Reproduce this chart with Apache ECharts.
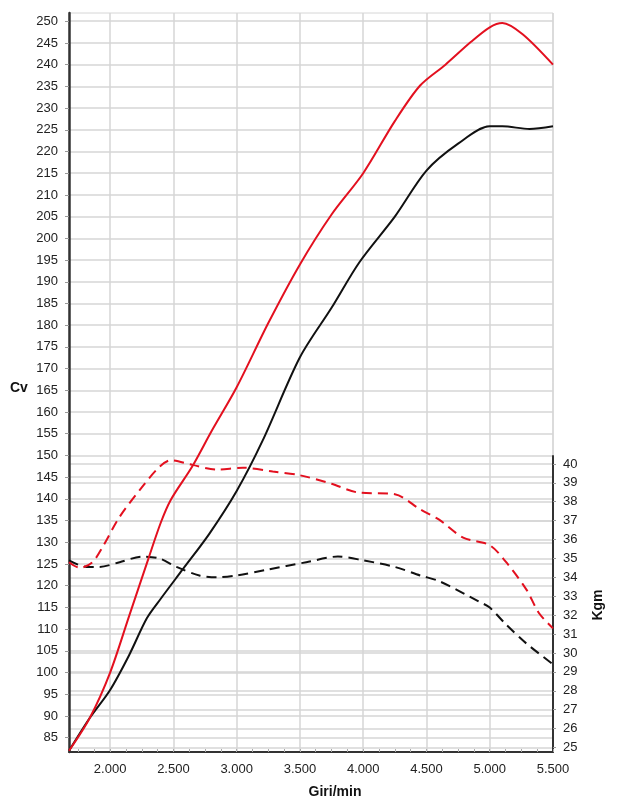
<!DOCTYPE html>
<html>
<head>
<meta charset="utf-8">
<script src="https://cdn.jsdelivr.net/npm/echarts@6/dist/echarts.min.js"></script>
<style>html,body{margin:0;padding:0;background:#fff}#c{width:619px;height:800px}</style>
</head>
<body>
<div id="c"></div>
<script>
// ---- data ----
const xLabels = [2000, 2500, 3000, 3500, 4000, 4500, 5000, 5500];
const xMinorTicks = [1750,1875,2000,2125,2250,2375,2500,2625,2750,2875,3000,3125,3250,3375,3500,3625,3750,3875,4000,4125,4250,4375,4500,4625,4750,4875,5000,5125,5250,5375,5500];
const cvLabels = [85,90,95,100,105,110,115,120,125,130,135,140,145,150,155,160,165,170,175,180,185,190,195,200,205,210,215,220,225,230,235,240,245,250];
const kgmLabels = [25,26,27,28,29,30,31,32,33,34,35,36,37,38,39,40];

const powerRedRpm = [1675,1840,2000,2150,2300,2400,2480,2650,2800,3000,3250,3500,3750,4000,4250,4450,4650,4850,5000,5100,5260,5500];
const powerRedCv  = [82,89.6,100,113,126,134.5,139.8,147.5,155.5,165.7,180.5,194,205.5,215,227,235.2,240,245.2,248.6,249.6,247,240];

const powerBlackRpm = [1675,1840,2000,2150,2290,2400,2575,2785,3000,3205,3500,3750,3970,4250,4500,4750,5000,5100,5315,5500];
const powerBlackCv  = [82,89.6,96,104,112.5,117,123.8,132,141.8,153.4,172.6,184,194.5,205,215.6,221.8,225.8,225.8,225.2,225.8];

const torqueRedRpm = [1675,1760,1860,1940,2075,2255,2390,2480,2650,2840,3050,3285,3500,3750,3950,4250,4450,4600,4790,5000,5130,5290,5390,5500];
const torqueRedKgm = [34.8,34.5,34.8,35.6,37.2,38.8,39.85,40.2,39.95,39.7,39.8,39.6,39.4,38.95,38.5,38.4,37.6,37.05,36.1,35.7,34.8,33.35,32.1,31.3];

const torqueBlackRpm = [1675,1815,1915,2075,2255,2390,2525,2705,2840,3000,3235,3550,3800,4000,4250,4450,4600,4920,5000,5130,5290,5500];
const torqueBlackKgm = [34.9,34.55,34.55,34.8,35.1,35.0,34.55,34.1,34.0,34.1,34.4,34.8,35.1,34.9,34.55,34.1,33.8,32.7,32.4,31.5,30.5,29.4];

// ---- chart ----
const pair = (xs, ys) => xs.map((x, i) => [x, ys[i]]);
const RED = '#e3101f', BLACK = '#111111', GRID = '#d6d6d6', AX = '#333333';
const FONT = 'Liberation Sans, Arial, Helvetica, sans-serif';
const fmtRpm = v => { const s = String(Math.round(v)); return s.length > 3 ? s.slice(0, s.length - 3) + '.' + s.slice(-3) : s; };

const chart = echarts.init(document.getElementById('c'), null, {renderer: 'canvas'});
chart.setOption({
  animation: false,
  backgroundColor: '#fff',
  textStyle: {fontFamily: FONT},
  grid: [
    {left: 69, right: 66, top: 13, bottom: 48, show: true, borderColor: GRID, borderWidth: 1, backgroundColor: 'transparent'},
    {left: 69, right: 66, top: 456, bottom: 48}
  ],
  xAxis: [
    {type: 'value', gridIndex: 0, min: 1675, max: 5500,
     axisLine: {show: true, lineStyle: {color: AX, width: 2}},
     axisTick: {show: false, customValues: xLabels},
     axisLabel: {customValues: xLabels, formatter: fmtRpm, color: '#222', fontSize: 13, margin: 11, fontFamily: FONT},
     splitLine: {show: true, lineStyle: {color: GRID, width: 1.5}}},
    {type: 'value', gridIndex: 1, min: 1675, max: 5500, show: false},
    {type: 'value', gridIndex: 0, min: 1675, max: 5500, position: 'bottom',
     axisLine: {show: false},
     axisTick: {show: true, inside: true, length: 3, customValues: xMinorTicks, lineStyle: {color: '#aaa'}},
     axisLabel: {show: false}, splitLine: {show: false}}
  ],
  yAxis: [
    {type: 'value', gridIndex: 0, min: 81.7, max: 251.9, position: 'left',
     axisLine: {show: true, lineStyle: {color: AX, width: 2.5}},
     axisTick: {show: true, length: 4, customValues: cvLabels, lineStyle: {color: '#999'}},
     axisLabel: {customValues: cvLabels, color: '#222', fontSize: 13, margin: 11, fontFamily: FONT},
     splitLine: {show: true, lineStyle: {color: GRID, width: 1.5}}},
    {type: 'value', gridIndex: 1, min: 24.76, max: 40.42, position: 'right',
     axisLine: {show: true, lineStyle: {color: AX, width: 2}},
     axisTick: {show: true, length: 3, customValues: kgmLabels, lineStyle: {color: '#999'}},
     axisLabel: {customValues: kgmLabels, color: '#222', fontSize: 13, margin: 10, fontFamily: FONT},
     splitLine: {show: true, lineStyle: {color: GRID, width: 1.5}}}
  ],
  graphic: [
    {type: 'text', left: 10, top: 381, style: {text: 'Cv', font: 'bold 14px ' + FONT, fill: '#111'}},
    {type: 'text', x: 598, y: 605, rotation: Math.PI / 2, style: {text: 'Kgm', font: 'bold 14px ' + FONT, fill: '#111', align: 'center', verticalAlign: 'middle'}},
    {type: 'text', x: 335, y: 792, style: {text: 'Giri/min', font: 'bold 14px ' + FONT, fill: '#111', align: 'center', verticalAlign: 'middle'}}
  ],
  series: [
    {name: 'Kgm black', type: 'line', xAxisIndex: 1, yAxisIndex: 1, data: pair(torqueBlackRpm, torqueBlackKgm),
     smooth: 0.3, showSymbol: false, lineStyle: {color: BLACK, width: 2, type: [10, 6]}},
    {name: 'Kgm red', type: 'line', xAxisIndex: 1, yAxisIndex: 1, data: pair(torqueRedRpm, torqueRedKgm),
     smooth: 0.3, showSymbol: false, lineStyle: {color: RED, width: 2, type: [10, 6]}},
    {name: 'Cv black', type: 'line', xAxisIndex: 0, yAxisIndex: 0, data: pair(powerBlackRpm, powerBlackCv),
     smooth: 0.3, showSymbol: false, lineStyle: {color: BLACK, width: 2}},
    {name: 'Cv red', type: 'line', xAxisIndex: 0, yAxisIndex: 0, data: pair(powerRedRpm, powerRedCv),
     smooth: 0.3, showSymbol: false, lineStyle: {color: RED, width: 2}}
  ]
});
</script>
</body>
</html>
